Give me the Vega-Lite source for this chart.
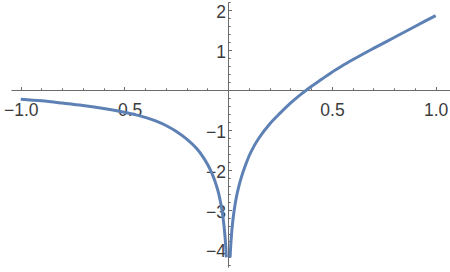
{
  "$schema": "https://vega.github.io/schema/vega-lite/v6.json",
  "width": 439,
  "height": 265,
  "autosize": {"type": "none"},
  "padding": {"left": 11, "top": 2, "right": 0, "bottom": 5},
  "background": "white",
  "config": {
    "view": {"stroke": null},
    "axis": {
      "grid": false,
      "title": null,
      "domainColor": "#6b6b6b",
      "domainWidth": 1,
      "tickColor": "#6b6b6b",
      "tickWidth": 1,
      "labelFont": "Liberation Sans",
      "labelFontSize": 17.5,
      "labelColor": "#3c3c3c",
      "labelOverlap": false,
      "labelFlush": false,
      "labelBound": false
    }
  },
  "data": {
    "values": [
      {"x": -1.0, "y": -0.23, "b": "L"},
      {"x": -0.9, "y": -0.27, "b": "L"},
      {"x": -0.8, "y": -0.325, "b": "L"},
      {"x": -0.7, "y": -0.385, "b": "L"},
      {"x": -0.6, "y": -0.46, "b": "L"},
      {"x": -0.5, "y": -0.555, "b": "L"},
      {"x": -0.45, "y": -0.615, "b": "L"},
      {"x": -0.4, "y": -0.685, "b": "L"},
      {"x": -0.35, "y": -0.775, "b": "L"},
      {"x": -0.3, "y": -0.89, "b": "L"},
      {"x": -0.25, "y": -1.04, "b": "L"},
      {"x": -0.2, "y": -1.23, "b": "L"},
      {"x": -0.15, "y": -1.48, "b": "L"},
      {"x": -0.125, "y": -1.65, "b": "L"},
      {"x": -0.1, "y": -1.86, "b": "L"},
      {"x": -0.08, "y": -2.07, "b": "L"},
      {"x": -0.065, "y": -2.27, "b": "L"},
      {"x": -0.05, "y": -2.52, "b": "L"},
      {"x": -0.04, "y": -2.74, "b": "L"},
      {"x": -0.03, "y": -3.02, "b": "L"},
      {"x": -0.025, "y": -3.2, "b": "L"},
      {"x": -0.02, "y": -3.42, "b": "L"},
      {"x": -0.016, "y": -3.64, "b": "L"},
      {"x": -0.012, "y": -3.92, "b": "L"},
      {"x": -0.009, "y": -4.2, "b": "L"},
      {"x": 0.009, "y": -4.2, "b": "R"},
      {"x": 0.012, "y": -3.91, "b": "R"},
      {"x": 0.016, "y": -3.62, "b": "R"},
      {"x": 0.02, "y": -3.39, "b": "R"},
      {"x": 0.025, "y": -3.16, "b": "R"},
      {"x": 0.03, "y": -2.97, "b": "R"},
      {"x": 0.04, "y": -2.67, "b": "R"},
      {"x": 0.05, "y": -2.44, "b": "R"},
      {"x": 0.065, "y": -2.16, "b": "R"},
      {"x": 0.08, "y": -1.93, "b": "R"},
      {"x": 0.1, "y": -1.66, "b": "R"},
      {"x": 0.125, "y": -1.4, "b": "R"},
      {"x": 0.15, "y": -1.19, "b": "R"},
      {"x": 0.2, "y": -0.85, "b": "R"},
      {"x": 0.25, "y": -0.58, "b": "R"},
      {"x": 0.3, "y": -0.33, "b": "R"},
      {"x": 0.35, "y": -0.11, "b": "R"},
      {"x": 0.4, "y": 0.09, "b": "R"},
      {"x": 0.45, "y": 0.27, "b": "R"},
      {"x": 0.5, "y": 0.45, "b": "R"},
      {"x": 0.55, "y": 0.61, "b": "R"},
      {"x": 0.6, "y": 0.76, "b": "R"},
      {"x": 0.65, "y": 0.905, "b": "R"},
      {"x": 0.7, "y": 1.045, "b": "R"},
      {"x": 0.8, "y": 1.32, "b": "R"},
      {"x": 0.9, "y": 1.595, "b": "R"},
      {"x": 1.0, "y": 1.87, "b": "R"}
    ]
  },
  "mark": {"type": "line", "color": "#5E81B5", "strokeWidth": 3, "clip": true, "interpolate": "monotone"},
  "encoding": {
    "x": {
      "field": "x",
      "type": "quantitative",
      "scale": {"domain": [-1.047, 1.069], "nice": false, "zero": false},
      "axis": {
        "orient": "bottom",
        "offset": -177,
        "values": [-1.0, -0.9, -0.8, -0.7, -0.6, -0.5, -0.4, -0.3, -0.2, -0.1, 0.1, 0.2, 0.3, 0.4, 0.5, 0.6, 0.7, 0.8, 0.9, 1.0],
        "labelExpr": "abs(datum.value * 2 - round(datum.value * 2)) < 0.001 ? format(datum.value, '.1f') : ''",
        "tickSize": {"condition": {"test": "abs(datum.value * 2 - round(datum.value * 2)) < 0.001", "value": -3.5}, "value": -2.2},
        "labelPadding": 15
      }
    },
    "y": {
      "field": "y",
      "type": "quantitative",
      "scale": {"domain": [-4.44, 2.21], "nice": false, "zero": false},
      "axis": {
        "orient": "left",
        "offset": -217,
        "values": [-4.4, -4.2, -4.0, -3.8, -3.6, -3.4, -3.2, -3.0, -2.8, -2.6, -2.4, -2.2, -2.0, -1.8, -1.6, -1.4, -1.2, -1.0, -0.8, -0.6, -0.4, -0.2, 0.2, 0.4, 0.6, 0.8, 1.0, 1.2, 1.4, 1.6, 1.8, 2.0, 2.2],
        "labelExpr": "abs(datum.value - round(datum.value)) < 0.001 ? format(datum.value, 'd') : ''",
        "tickSize": {"condition": {"test": "abs(datum.value - round(datum.value)) < 0.001", "value": -3.5}, "value": -2.2},
        "labelPadding": 6,
        "labelOffset": 2.5
      }
    },
    "detail": {"field": "b"}
  }
}
